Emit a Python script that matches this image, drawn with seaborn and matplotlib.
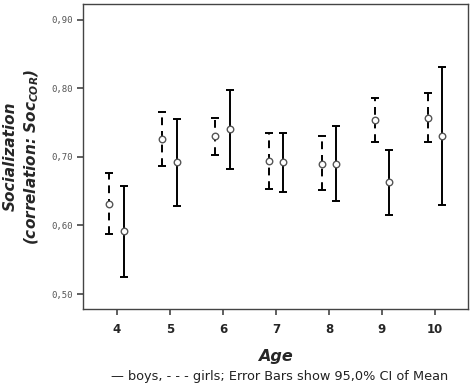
import numpy as np
import matplotlib
matplotlib.use("Agg")
import matplotlib.pyplot as plt
import seaborn as sns

# values (means and 95% CI bounds)
ages = [4, 5, 6, 7, 8, 9, 10]
girls_mean = [0.631, 0.726, 0.731, 0.694, 0.690, 0.754, 0.757]
girls_lo = [0.587, 0.686, 0.703, 0.653, 0.651, 0.721, 0.721]
girls_hi = [0.676, 0.765, 0.757, 0.735, 0.730, 0.786, 0.793]
boys_mean = [0.592, 0.693, 0.740, 0.692, 0.690, 0.663, 0.730]
boys_lo = [0.525, 0.629, 0.682, 0.649, 0.635, 0.616, 0.630]
boys_hi = [0.658, 0.755, 0.797, 0.735, 0.745, 0.710, 0.831]
yticks = [0.50, 0.60, 0.70, 0.80, 0.90]

sns.set_style("white")
plt.rcParams['font.family'] = ['DejaVu Sans']
plt.rcParams['mathtext.fontset'] = 'custom'
plt.rcParams['mathtext.it'] = 'DejaVu Sans:italic:bold'
plt.rcParams['mathtext.rm'] = 'DejaVu Sans:bold'

fig = plt.figure(figsize=(4.74, 3.86), dpi=100)
ax = fig.add_axes([0.175, 0.199, 0.812, 0.791])

x = np.arange(len(ages))
off = 0.14

def draw(xpos, mean, lo, hi, ls):
    mean = np.array(mean)
    err = [mean - np.array(lo), np.array(hi) - mean]
    eb = ax.errorbar(xpos, mean, yerr=err, fmt='none', ecolor='black',
                     elinewidth=1.4, capsize=2.6, capthick=1.4)
    if ls == 'dashed':
        for lc in eb.lines[2]:
            lc.set_linestyle((0, (4, 3)))
    sns.scatterplot(x=xpos, y=mean, ax=ax, marker='o', s=22,
                    facecolor='white', edgecolor='#555555', linewidth=1.0,
                    zorder=5, legend=False)

draw(x - off, girls_mean, girls_lo, girls_hi, 'dashed')
draw(x + off, boys_mean, boys_lo, boys_hi, 'solid')

ax.set_xlim(-0.64, len(ages) - 1 + 0.62)
ax.set_ylim(0.478, 0.923)
ax.set_xticks(x)
ax.set_xticklabels([str(a) for a in ages], fontsize=8.5, fontweight='bold')
ax.set_yticks(yticks)
ax.set_yticklabels([f"{t:.2f}".replace('.', ',') for t in yticks],
                   fontsize=6.5, color='#555555', family='DejaVu Sans Mono')

for s in ax.spines.values():
    s.set_color('#444444')
    s.set_linewidth(1.0)
ax.tick_params(axis='both', direction='out', length=4, width=1.2,
               color='#444444', left=True, bottom=True, pad=3)
ax.tick_params(axis='x', pad=6)

ax.set_xlabel("Age", fontsize=11.5, fontweight='bold', style='italic', labelpad=9)
ax.set_ylabel("Socialization\n(correlation: $Soc_{COR}$)", fontsize=11,
              fontweight='bold', style='italic', labelpad=8, linespacing=1.3)

fig.text(0.589, 0.008, "— boys, - - - girls; Error Bars show 95,0% CI of Mean",
         ha='center', va='bottom', fontsize=9.3, color='#222222')

fig.savefig("out.png", dpi=100)
